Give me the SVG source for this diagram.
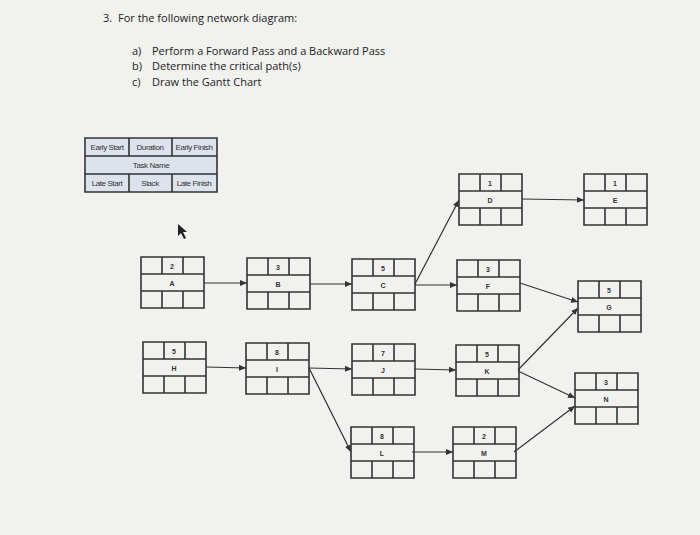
<svg xmlns="http://www.w3.org/2000/svg" xmlns:xlink="http://www.w3.org/1999/xlink" width="700" height="535" viewBox="0 0 700 535">
<style>
.g{fill:none;stroke:#333;stroke-width:1.6}
.t{font-family:"Open Sans","Liberation Sans",sans-serif;font-size:11px;fill:#222}
.n{font-family:"Liberation Sans",sans-serif;font-size:7px;font-weight:bold;fill:#333;text-anchor:middle}
.l{font-family:"Liberation Sans",sans-serif;font-size:8px;fill:#333;text-anchor:middle;letter-spacing:-0.4px}
.c{stroke:#333;stroke-width:1.2;fill:none;marker-end:url(#ah)}
</style>
<defs>
<marker id="ah" markerWidth="8" markerHeight="8" refX="7" refY="4" orient="auto" markerUnits="userSpaceOnUse"><path d="M0,1 L7,4 L0,7z" fill="#333"/></marker>
<symbol id="box" overflow="visible"><path class="g" d="M0,0H63V51H0Z M0,17H63 M0,34H63 M21,0V17 M42,0V17 M21,34V51 M42,34V51"/></symbol>
</defs>
<rect width="700" height="535" fill="#f1f1ef"/>
<text class="t" x="103" y="22">3.</text><text class="t" x="118" y="22">For the following network diagram:</text>
<text class="t" x="132" y="55">a)</text><text class="t" x="152" y="55">Perform a Forward Pass and a Backward Pass</text>
<text class="t" x="132" y="70">b)</text><text class="t" x="152" y="70">Determine the critical path(s)</text>
<text class="t" x="132" y="86">c)</text><text class="t" x="152" y="86">Draw the Gantt Chart</text>
<g id="legend">
<rect x="85" y="138" width="132" height="54" fill="#dde3ec"/>
<path class="g" d="M85,138H217V192H85Z M85,156H217 M85,174H217 M129,138V156 M172,138V156 M129,174V192 M172,174V192"/>
<text class="l" x="107" y="150">Early Start</text><text class="l" x="150" y="150">Duration</text><text class="l" x="194" y="150">Early Finish</text>
<text class="l" x="151" y="168">Task Name</text>
<text class="l" x="107" y="186">Late Start</text><text class="l" x="150" y="186">Slack</text><text class="l" x="194" y="186">Late Finish</text>
</g>
<path d="M178,224 l0,12 l3,-3 l3,6 l2,-1 l-3,-6 l4,0z" fill="#222"/>
<g id="connectors">
<line class="c" x1="204" y1="283" x2="247" y2="283"/>
<line class="c" x1="310" y1="284" x2="352" y2="284"/>
<line class="c" x1="415" y1="284" x2="459" y2="200"/>
<line class="c" x1="415" y1="285" x2="457" y2="285"/>
<line class="c" x1="522" y1="199" x2="584" y2="200"/>
<line class="c" x1="520" y1="283" x2="578" y2="302"/>
<line class="c" x1="518" y1="370" x2="578" y2="308"/>
<line class="c" x1="518" y1="371" x2="575" y2="398"/>
<line class="c" x1="514" y1="452" x2="575" y2="406"/>
<line class="c" x1="206" y1="367" x2="246" y2="368"/>
<line class="c" x1="309" y1="368" x2="352" y2="369"/>
<line class="c" x1="309" y1="368" x2="351" y2="452"/>
<line class="c" x1="414" y1="369" x2="456" y2="370"/>
<line class="c" x1="412" y1="452" x2="453" y2="452"/>
</g>
<g id="A"><use href="#box" x="141" y="257"/><text class="n" x="172" y="269">2</text><text class="n" x="172" y="286">A</text></g>
<g id="B"><use href="#box" x="247" y="258"/><text class="n" x="278" y="270">3</text><text class="n" x="278" y="287">B</text></g>
<g id="C"><use href="#box" x="352" y="259"/><text class="n" x="383" y="271">5</text><text class="n" x="383" y="288">C</text></g>
<g id="D"><use href="#box" x="459" y="174"/><text class="n" x="490" y="186">1</text><text class="n" x="490" y="203">D</text></g>
<g id="E"><use href="#box" x="584" y="174"/><text class="n" x="615" y="186">1</text><text class="n" x="615" y="203">E</text></g>
<g id="F"><use href="#box" x="457" y="260"/><text class="n" x="488" y="272">3</text><text class="n" x="488" y="289">F</text></g>
<g id="G"><use href="#box" x="578" y="281"/><text class="n" x="609" y="293">5</text><text class="n" x="609" y="310">G</text></g>
<g id="H"><use href="#box" x="143" y="342"/><text class="n" x="174" y="354">5</text><text class="n" x="174" y="371">H</text></g>
<g id="I"><use href="#box" x="246" y="343"/><text class="n" x="277" y="355">8</text><text class="n" x="277" y="372">I</text></g>
<g id="J"><use href="#box" x="352" y="344"/><text class="n" x="383" y="356">7</text><text class="n" x="383" y="373">J</text></g>
<g id="K"><use href="#box" x="456" y="345"/><text class="n" x="487" y="357">5</text><text class="n" x="487" y="374">K</text></g>
<g id="N"><use href="#box" x="575" y="373"/><text class="n" x="606" y="385">3</text><text class="n" x="606" y="402">N</text></g>
<g id="L"><use href="#box" x="351" y="427"/><text class="n" x="382" y="439">8</text><text class="n" x="382" y="456">L</text></g>
<g id="M"><use href="#box" x="453" y="427"/><text class="n" x="484" y="439">2</text><text class="n" x="484" y="456">M</text></g>
</svg>
